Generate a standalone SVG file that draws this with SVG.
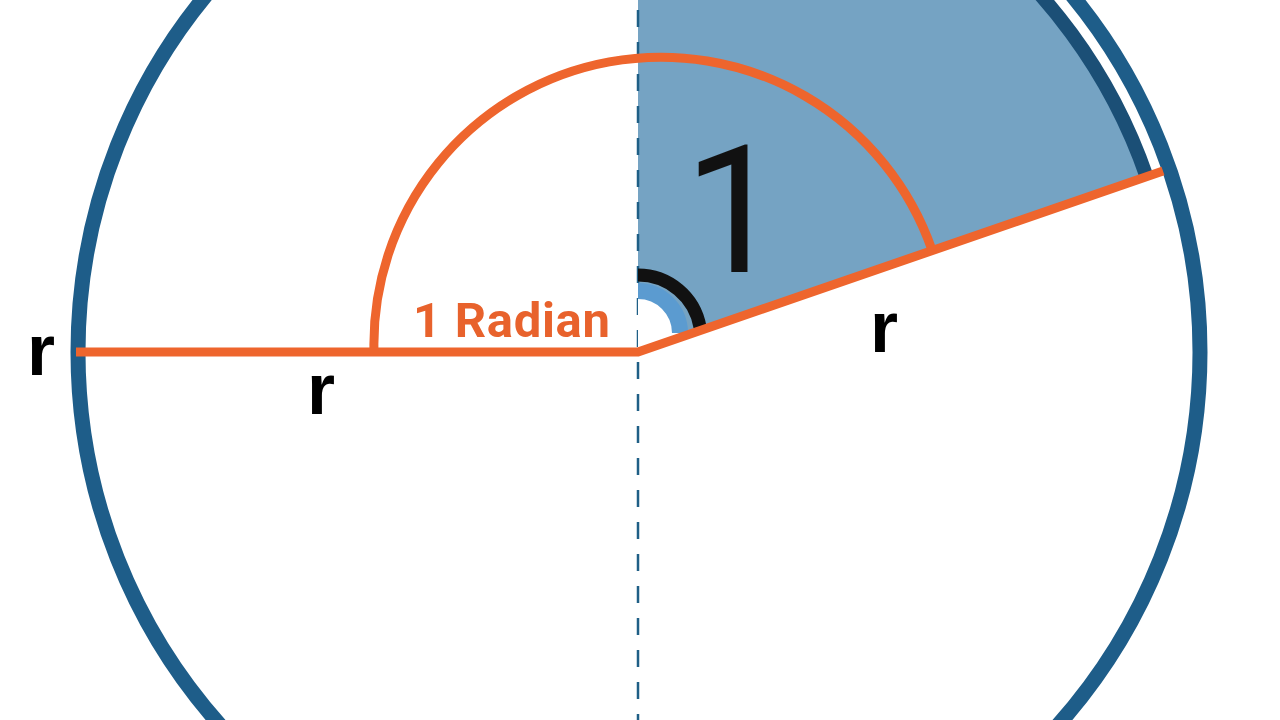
<svg xmlns="http://www.w3.org/2000/svg" width="1280" height="720" viewBox="0 0 1280 720">
  <style>
    .orange { fill: none; stroke: #ee652d; stroke-width: 9; }
    .lbl { font-family: "Liberation Sans", Arial, sans-serif; font-weight: 700; font-size: 72px; fill: #000; }
  </style>
  <rect width="1280" height="720" fill="#ffffff"/>
  <g id="sector">
    <path d="M 638 352 L 638 -190 A 538 538 0 0 1 1146.6 176.6 Z" fill="#75a3c3"/>
    <path d="M 638 -186 A 538 538 0 0 1 1146.6 176.6" fill="none" stroke="#1b4f76" stroke-width="14"/>
  </g>
  <g id="circle">
    <circle cx="639" cy="352" r="561" fill="none" stroke="#1e5d89" stroke-width="15"/>
  </g>
  <g id="axis">
    <line x1="638" y1="0" x2="638" y2="720" stroke="#1f5f86" stroke-width="2.5" stroke-dasharray="17 15" stroke-dashoffset="22"/>
  </g>
  <g id="angle-mark">
    <path d="M 638 352 L 638 291 A 42 42 0 0 1 680 333 Z" fill="#ffffff"/>
    <path d="M 638 291 A 42 42 0 0 1 680 333" fill="none" stroke="#5b9bd0" stroke-width="16"/>
    <path d="M 638 275 A 63 63 0 0 1 700 327" fill="none" stroke="#111111" stroke-width="13"/>
  </g>
  <g id="connectors">
    <polyline class="orange" points="76,352 638,352 1163,171" stroke-linejoin="miter"/>
    <path class="orange" d="M 374 352 A 287 287 0 0 1 932 250" stroke-width="8"/>
  </g>
  <g id="labels">
    <text x="734" y="272" text-anchor="middle" font-family="Roboto, 'Liberation Sans', sans-serif" font-size="179" fill="#111111">1</text>
    <text x="413" y="337" font-family="Roboto, 'Liberation Sans', sans-serif" font-weight="700" font-size="49" fill="#e8622c" textLength="197">1 Radian</text>
    <text class="lbl" x="27" y="375">r</text>
    <text class="lbl" x="307" y="414">r</text>
    <text class="lbl" x="870" y="352">r</text>
  </g>
</svg>
